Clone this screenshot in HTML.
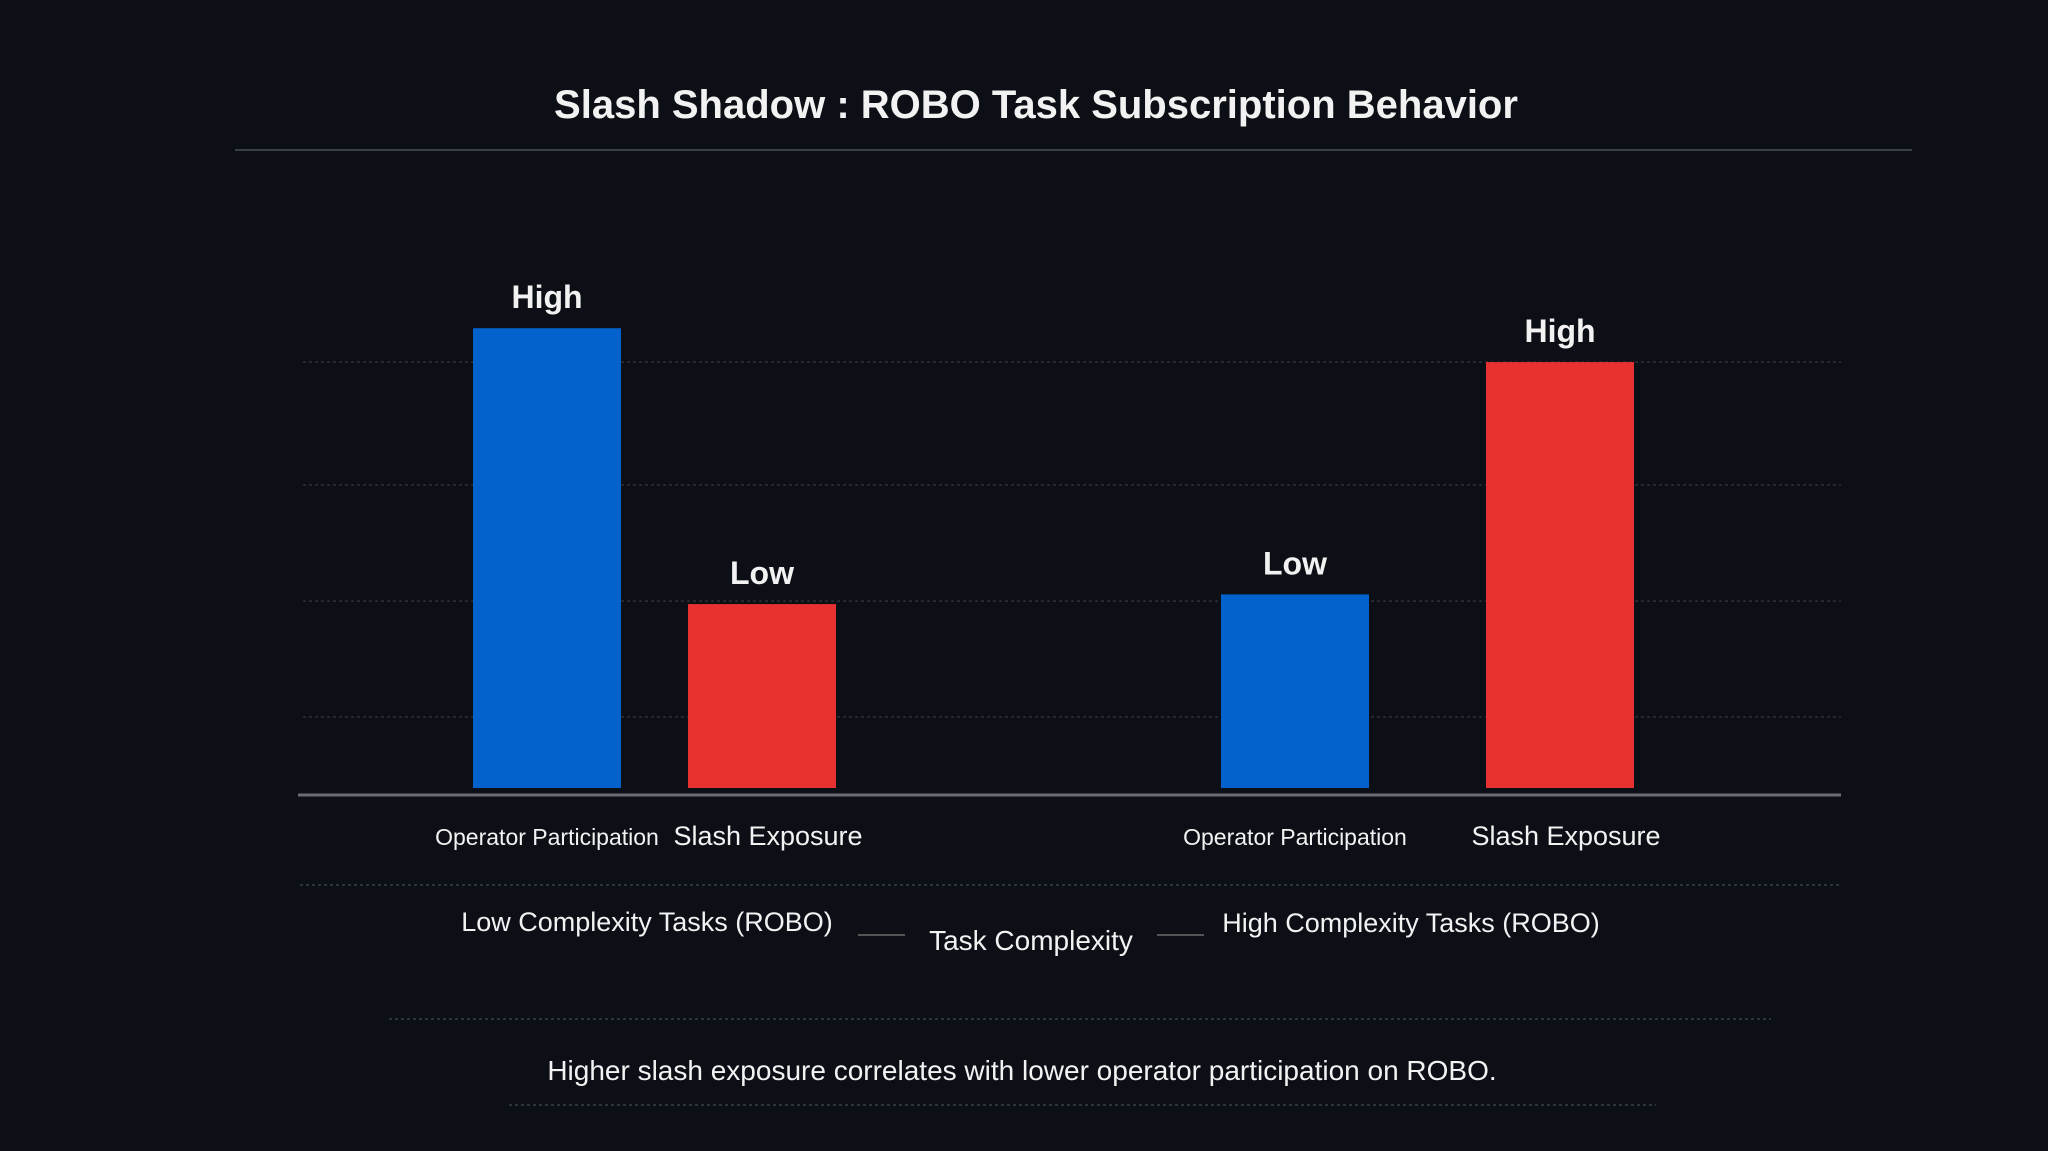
<!DOCTYPE html>
<html><head><meta charset="utf-8"><style>
html,body{margin:0;padding:0;background:#0c0f15;}
svg{display:block}
text{font-family:"Liberation Sans",sans-serif;fill:#f2f2f2}
</style></head><body>
<svg id="chart" width="2048" height="1151" viewBox="0 0 2048 1151">
<rect x="0" y="0" width="2048" height="1151" fill="#0c0f15"/>
<text x="1036" y="118" text-anchor="middle" font-size="40" font-weight="bold">Slash Shadow : ROBO Task Subscription Behavior</text>
<line x1="235" y1="150" x2="1912" y2="150" stroke="#3a3e46" stroke-width="2"/>
<g id="grid"></g>
<g id="bars"></g>
<line x1="298" y1="795" x2="1841" y2="795" stroke="#6a6d74" stroke-width="3"/>
<g id="xlabels"></g>
<line x1="300" y1="885" x2="1841" y2="885" stroke="#3a3e46" stroke-width="1.5" stroke-dasharray="3,3"/>
<text x="647" y="931" text-anchor="middle" font-size="27">Low Complexity Tasks (ROBO)</text>
<line x1="858" y1="935" x2="905" y2="935" stroke="#555" stroke-width="2"/>
<text x="1031" y="950" text-anchor="middle" font-size="28">Task Complexity</text>
<line x1="1157" y1="935" x2="1204" y2="935" stroke="#555" stroke-width="2"/>
<text x="1411" y="932" text-anchor="middle" font-size="27">High Complexity Tasks (ROBO)</text>
<line x1="389" y1="1019" x2="1771" y2="1019" stroke="#3a3e46" stroke-width="1.5" stroke-dasharray="3,3"/>
<text x="1022" y="1080" text-anchor="middle" font-size="28">Higher slash exposure correlates with lower operator participation on ROBO.</text>
<line x1="509" y1="1105" x2="1656" y2="1105" stroke="#3a3e46" stroke-width="1.5" stroke-dasharray="3,3"/>
</svg>
<script>
const categories = ["Operator Participation","Slash Exposure","Operator Participation","Slash Exposure"];
const values = [95, 38, 40, 88];
const valueLabels = ["High","Low","Low","High"];
const gridValues = [88, 62.6, 38.6, 14.7];
const colors = ["#0462cc","#e83232","#0462cc","#e83232"];
const NS="http://www.w3.org/2000/svg";
const baseY=788, pxPerUnit=4.84;
const y = v => baseY - v*pxPerUnit;
const slotX=[473,688,1221,1486], barW=148;
const x = i => slotX[i];
const grid=document.getElementById('grid'), bars=document.getElementById('bars'), xl=document.getElementById('xlabels');
gridValues.forEach(g=>{
  const l=document.createElementNS(NS,'line');
  
  
  l.setAttribute('x1',303);l.setAttribute('x2',1841);
  l.setAttribute('y1',y(g));l.setAttribute('y2',y(g));
  l.setAttribute('stroke','#2e3139');l.setAttribute('stroke-width','1.5');l.setAttribute('stroke-dasharray','3,3');
  grid.appendChild(l);
});
values.forEach((v,i)=>{
  const r=document.createElementNS(NS,'rect');
  
  
  r.setAttribute('x',x(i));r.setAttribute('width',barW);
  r.setAttribute('y',y(v));r.setAttribute('height',baseY-y(v));
  r.setAttribute('fill',colors[i]);
  bars.appendChild(r);
  const t=document.createElementNS(NS,'text');
  
  
  t.setAttribute('x',x(i)+barW/2);t.setAttribute('y',y(v)-20);
  t.setAttribute('text-anchor','middle');t.setAttribute('font-size','32');t.setAttribute('font-weight','bold');
  t.textContent=valueLabels[i];
  bars.appendChild(t);
  const c=document.createElementNS(NS,'text');
  
  
  c.setAttribute('x',x(i)+barW/2+(i%2?6:0));c.setAttribute('y',845);
  c.setAttribute('text-anchor','middle');
  c.setAttribute('font-size',i%2?'27':'23');
  c.textContent=categories[i];
  xl.appendChild(c);
});
</script>
</body></html>
